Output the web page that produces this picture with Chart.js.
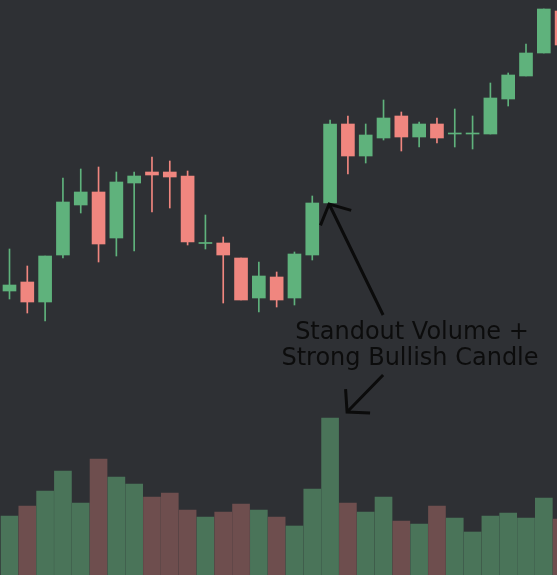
<!DOCTYPE html>
<html>
<head>
<meta charset="utf-8">
<script src="https://cdn.jsdelivr.net/npm/chart.js@4.4.1/dist/chart.umd.min.js"></script>
<style>
    html, body { margin: 0; padding: 0; background: #2e3034; overflow: hidden; }
    #wrap { width: 557px; height: 575px; }
</style>
</head>
<body>
<div id="wrap"><canvas id="candles"></canvas></div>
<script>
// Données : bougies (ouverture, fermeture, haut, bas) et volumes
const opens  = [78.4, 79.3, 77.3, 82.0, 87.0, 88.3, 83.7, 89.2, 90.3, 90.3, 89.9, 83.15, 83.2, 81.7, 77.7, 79.8,
                77.7, 82.0, 87.2, 95.1, 91.9, 93.7, 95.9, 93.8, 95.1, 94.1, 94.1, 94.1, 97.6, 99.9, 102.2, 106.4];
const closes = [79.0, 77.3, 81.9, 87.3, 88.3, 83.1, 89.3, 89.9, 90.0, 89.8, 83.3, 83.25, 82.0, 77.5, 79.9, 77.5,
                82.1, 87.2, 95.1, 91.9, 94.0, 95.7, 93.8, 95.1, 93.7, 94.2, 94.2, 97.7, 100.0, 102.2, 106.6, 103.0];
const highs  = [82.6, 80.9, 81.9, 89.7, 90.6, 90.8, 90.3, 90.3, 91.8, 91.4, 90.4, 86.0, 83.8, 81.7, 81.3, 80.3,
                82.3, 87.9, 95.5, 95.9, 95.1, 97.5, 96.3, 95.3, 95.7, 96.6, 95.9, 99.2, 100.2, 103.1, 106.6, 106.4];
const lows   = [77.6, 76.2, 75.4, 81.7, 86.2, 81.3, 81.9, 82.4, 86.3, 86.7, 83.0, 82.6, 77.2, 77.5, 76.3, 76.8,
                77.0, 81.5, 87.2, 90.1, 91.2, 93.5, 92.4, 92.8, 93.2, 92.8, 92.6, 94.1, 96.9, 99.9, 102.2, 103.0];
const volumes = [5900, 6900, 8400, 10400, 7200, 11600, 9800, 9100, 7800, 8200, 6500, 5800, 6300, 7100, 6500, 5800,
                 4900, 8600, 15700, 7200, 6300, 7800, 5400, 5100, 6900, 5700, 4300, 5900, 6200, 5700, 7700, 5600];

const SPIKE = 18; // bougie annotée

const UP = '#5fb27c', DOWN = '#f0867f';
const UP_VOL = '#4a7459', DOWN_VOL = '#6e4e4e';

const isUp = opens.map((o, i) => closes[i] >= o);

// Flèches et texte d'annotation
const annotationPlugin = {
    id: 'annotation',
    afterDatasetsDraw(chart) {
        const ctx = chart.ctx;
        const xs = chart.scales.x, ys = chart.scales.y, yv = chart.scales.yVol;

        function arrow(x1, y1, x2, y2) {
            const ang = Math.atan2(y1 - y2, x1 - x2);
            const len = 23, spread = 48 * Math.PI / 180;
            ctx.beginPath();
            ctx.moveTo(x1, y1);
            ctx.lineTo(x2, y2);
            ctx.moveTo(x2 + len * Math.cos(ang + spread), y2 + len * Math.sin(ang + spread));
            ctx.lineTo(x2, y2);
            ctx.lineTo(x2 + len * Math.cos(ang - spread), y2 + len * Math.sin(ang - spread));
            ctx.stroke();
        }

        ctx.save();
        ctx.strokeStyle = '#0b0b0b';
        ctx.lineWidth = 3;
        ctx.lineCap = 'butt';
        ctx.lineJoin = 'miter';

        // vers la bougie
        const tipX = xs.getPixelForValue(SPIKE) - 1;
        const tipY = ys.getPixelForValue(opens[SPIKE]) + 1;
        arrow(tipX + 54, tipY + 111, tipX, tipY);

        // vers la barre de volume
        const vX = xs.getPixelForValue(SPIKE) + 17;
        const vY = yv.getPixelForValue(volumes[SPIKE]) - 6;
        arrow(vX + 36, vY - 37, vX, vY);

        ctx.fillStyle = '#0c0c0c';
        ctx.font = '24px "DejaVu Sans", sans-serif';
        ctx.textAlign = 'center';
        ctx.textBaseline = 'alphabetic';
        ctx.fillText('Standout Volume +', 412, 339);
        ctx.fillText('Strong Bullish Candle', 410, 365);
        ctx.restore();
    }
};

function initCandleChart() {
    const ctx = document.getElementById('candles').getContext('2d');
    new Chart(ctx, {
        type: 'bar',
        data: {
            datasets: [
                {
                    label: 'Corps',
                    data: opens.map((o, i) => ({ x: i, y: [o, closes[i]] })),
                    backgroundColor: isUp.map(u => u ? UP : DOWN),
                    barThickness: 13,
                    grouped: false,
                    yAxisID: 'y',
                    order: 1
                },
                {
                    label: 'Mèches',
                    data: highs.map((h, i) => ({ x: i, y: [lows[i], h] })),
                    backgroundColor: isUp.map(u => u ? UP : DOWN),
                    barThickness: 1,
                    grouped: false,
                    yAxisID: 'y',
                    order: 2
                },
                {
                    label: 'Volume',
                    data: volumes.map((v, i) => ({ x: i, y: v })),
                    backgroundColor: isUp.map(u => u ? UP_VOL : DOWN_VOL),
                    barThickness: 17,
                    grouped: false,
                    yAxisID: 'yVol',
                    order: 3
                }
            ]
        },
        options: {
            responsive: true,
            maintainAspectRatio: false,
            animation: false,
            layout: { padding: 0 },
            plugins: {
                legend: { display: false },
                tooltip: { enabled: false }
            },
            scales: {
                x: {
                    type: 'linear',
                    min: -0.533,
                    max: 30.74,
                    offset: false,
                    display: false
                },
                y: {
                    min: 50,
                    max: 107.5,
                    display: false
                },
                yVol: {
                    min: 0,
                    max: 57500,
                    display: false
                }
            }
        },
        plugins: [annotationPlugin]
    });
}

initCandleChart();
</script>
</body>
</html>
